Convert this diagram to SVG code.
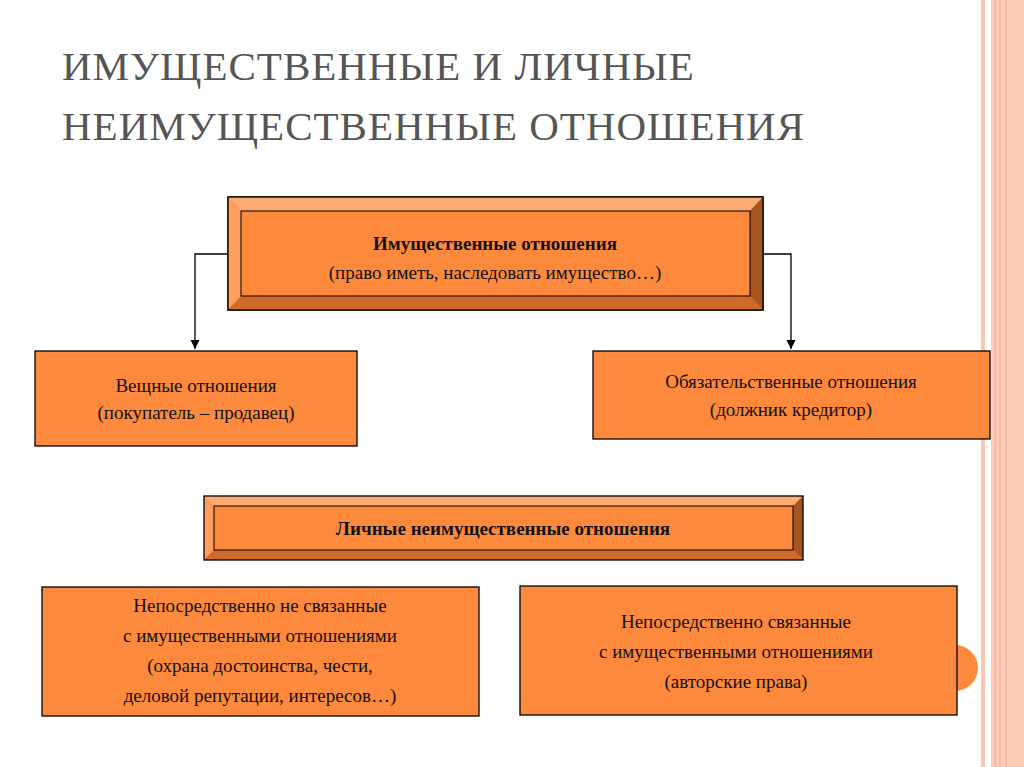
<svg xmlns="http://www.w3.org/2000/svg" width="1024" height="767" viewBox="0 0 1024 767">
<defs>
<style>
.b{fill:#fd8a3c;stroke:#000;stroke-width:1.3}
.t{font-family:"Liberation Serif",serif;font-size:19px;fill:#111;text-anchor:middle}
.bt{font-weight:bold}
.h{font-family:"Liberation Serif",serif;font-size:41px;fill:#555;letter-spacing:1px}
.c{fill:none;stroke:#000;stroke-width:1.3}
</style>
<marker id="a" viewBox="0 0 10 10" refX="10" refY="5" markerWidth="7" markerHeight="7" orient="auto"><path d="M0,0L10,5L0,10z" fill="#000"/></marker>
</defs>
<rect width="1024" height="767" fill="#fff"/>
<rect x="981" y="0" width="4" height="767" fill="#f8c8b4"/>
<rect x="991" y="0" width="33" height="767" fill="#fbcdb8"/>
<line x1="995" y1="0" x2="995" y2="767" stroke="#f0a888" stroke-width="1"/>
<line x1="1000" y1="0" x2="1000" y2="767" stroke="#f0a888" stroke-width="1"/>
<line x1="1006" y1="0" x2="1006" y2="767" stroke="#f0a888" stroke-width="1"/>
<circle cx="955" cy="668" r="23" fill="#fd8a3c"/>
<text class="h" x="62" y="80">ИМУЩЕСТВЕННЫЕ И ЛИЧНЫЕ</text>
<text class="h" x="62" y="140">НЕИМУЩЕСТВЕННЫЕ ОТНОШЕНИЯ</text>
<g id="connectors">
<path class="c" d="M228,254H195V349" marker-end="url(#a)"/>
<path class="c" d="M762,254H791V349" marker-end="url(#a)"/>
</g>
<g id="n1">
<rect x="228" y="197" width="535" height="113" fill="#fd8a3c" stroke="#000" stroke-width="1.3"/>
<polygon points="228,197 763,197 750,211 241,211" fill="#fdab76"/>
<polygon points="228,197 241,211 241,296 228,310" fill="#fd9d5e"/>
<polygon points="763,197 750,211 750,296 763,310" fill="#a5551f"/>
<polygon points="228,310 241,296 750,296 763,310" fill="#cf6a29"/>
<rect x="241" y="211" width="509" height="85" fill="none" stroke="#000" stroke-width="1"/>
<rect x="228" y="197" width="535" height="113" fill="none" stroke="#000" stroke-width="1.3"/>
<text class="t bt" x="495" y="250">Имущественные отношения</text>
<text class="t" x="495" y="279">(право иметь, наследовать имущество…)</text>
</g>
<g id="n2">
<rect class="b" x="35" y="351" width="322" height="95"/>
<text class="t" x="196" y="392">Вещные отношения</text>
<text class="t" x="196" y="419">(покупатель – продавец)</text>
</g>
<g id="n3">
<rect class="b" x="593" y="351" width="397" height="88"/>
<text class="t" x="791" y="388">Обязательственные отношения</text>
<text class="t" x="791" y="416">(должник кредитор)</text>
</g>
<g id="n4">
<rect x="204" y="496" width="599" height="64" fill="#fd8a3c"/>
<polygon points="204,496 803,496 793,506 214,506" fill="#fdab76"/>
<polygon points="204,496 214,506 214,550 204,560" fill="#fd9d5e"/>
<polygon points="803,496 793,506 793,550 803,560" fill="#a5551f"/>
<polygon points="204,560 214,550 793,550 803,560" fill="#cf6a29"/>
<rect x="214" y="506" width="579" height="44" fill="none" stroke="#000" stroke-width="1"/>
<rect x="204" y="496" width="599" height="64" fill="none" stroke="#000" stroke-width="1.3"/>
<text class="t bt" x="503" y="535">Личные неимущественные отношения</text>
</g>
<g id="n5">
<rect class="b" x="42" y="587" width="437" height="129"/>
<text class="t" x="260" y="612">Непосредственно не связанные</text>
<text class="t" x="260" y="642">с имущественными отношениями</text>
<text class="t" x="260" y="672">(охрана достоинства, чести,</text>
<text class="t" x="260" y="702">деловой репутации, интересов…)</text>
</g>
<g id="n6">
<rect class="b" x="520" y="586" width="437" height="129"/>
<text class="t" x="736" y="628">Непосредственно связанные</text>
<text class="t" x="736" y="658">с имущественными отношениями</text>
<text class="t" x="736" y="688">(авторские права)</text>
</g>
</svg>
